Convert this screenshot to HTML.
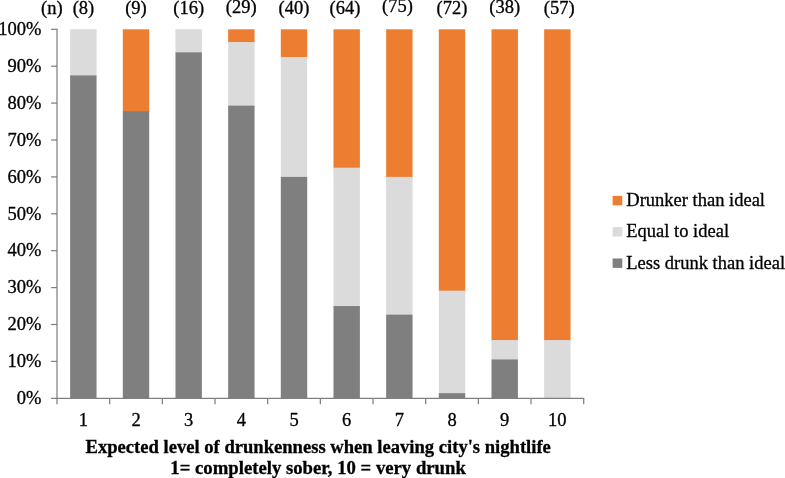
<!DOCTYPE html>
<html><head><meta charset="utf-8"><title>Chart</title>
<style>
html,body{margin:0;padding:0;background:#fff;}
body{width:785px;height:478px;overflow:hidden;}
svg{display:block;font-family:"Liberation Serif",serif;font-size:18.5px;fill:#000;}
text{stroke:#000;stroke-width:0.3px;paint-order:stroke fill;}
.b{font-weight:bold;}
</style></head><body>
<svg width="785" height="478" viewBox="0 0 785 478">
<rect width="785" height="478" fill="#fff"/>

<rect x="70.14" y="29.30" width="26.40" height="47.12" fill="#dbdbdb"/>
<rect x="70.14" y="75.42" width="26.40" height="322.88" fill="#7f7f7f"/>
<rect x="122.80" y="29.30" width="26.40" height="83.00" fill="#ed7d31"/>
<rect x="122.80" y="111.30" width="26.40" height="287.00" fill="#7f7f7f"/>
<rect x="175.48" y="29.30" width="26.40" height="24.06" fill="#dbdbdb"/>
<rect x="175.48" y="52.36" width="26.40" height="345.94" fill="#7f7f7f"/>
<rect x="228.15" y="29.30" width="26.40" height="13.72" fill="#ed7d31"/>
<rect x="228.15" y="42.02" width="26.40" height="64.62" fill="#dbdbdb"/>
<rect x="228.15" y="105.64" width="26.40" height="292.66" fill="#7f7f7f"/>
<rect x="280.81" y="29.30" width="26.40" height="28.68" fill="#ed7d31"/>
<rect x="280.81" y="56.98" width="26.40" height="120.92" fill="#dbdbdb"/>
<rect x="280.81" y="176.90" width="26.40" height="221.40" fill="#7f7f7f"/>
<rect x="333.49" y="29.30" width="26.40" height="139.38" fill="#ed7d31"/>
<rect x="333.49" y="167.68" width="26.40" height="139.38" fill="#dbdbdb"/>
<rect x="333.49" y="306.05" width="26.40" height="92.25" fill="#7f7f7f"/>
<rect x="386.16" y="29.30" width="26.40" height="148.60" fill="#ed7d31"/>
<rect x="386.16" y="176.90" width="26.40" height="138.76" fill="#dbdbdb"/>
<rect x="386.16" y="314.66" width="26.40" height="83.64" fill="#7f7f7f"/>
<rect x="438.83" y="29.30" width="26.40" height="262.38" fill="#ed7d31"/>
<rect x="438.83" y="290.68" width="26.40" height="103.50" fill="#dbdbdb"/>
<rect x="438.83" y="393.18" width="26.40" height="5.12" fill="#7f7f7f"/>
<rect x="491.50" y="29.30" width="26.40" height="311.74" fill="#ed7d31"/>
<rect x="491.50" y="340.04" width="26.40" height="20.42" fill="#dbdbdb"/>
<rect x="491.50" y="359.46" width="26.40" height="38.84" fill="#7f7f7f"/>
<rect x="544.16" y="29.30" width="26.40" height="311.74" fill="#ed7d31"/>
<rect x="544.16" y="340.04" width="26.40" height="58.26" fill="#dbdbdb"/>
<g stroke="#808080" stroke-width="1.25" fill="none">
<line x1="57.00" y1="28.80" x2="57.00" y2="404.20"/>
<line x1="51.10" y1="398.30" x2="584.20" y2="398.30"/>
<line x1="51.10" y1="29.30" x2="57.00" y2="29.30"/>
<line x1="51.10" y1="66.20" x2="57.00" y2="66.20"/>
<line x1="51.10" y1="103.10" x2="57.00" y2="103.10"/>
<line x1="51.10" y1="140.00" x2="57.00" y2="140.00"/>
<line x1="51.10" y1="176.90" x2="57.00" y2="176.90"/>
<line x1="51.10" y1="213.80" x2="57.00" y2="213.80"/>
<line x1="51.10" y1="250.70" x2="57.00" y2="250.70"/>
<line x1="51.10" y1="287.60" x2="57.00" y2="287.60"/>
<line x1="51.10" y1="324.50" x2="57.00" y2="324.50"/>
<line x1="51.10" y1="361.40" x2="57.00" y2="361.40"/>
<line x1="109.67" y1="398.30" x2="109.67" y2="404.20"/>
<line x1="162.34" y1="398.30" x2="162.34" y2="404.20"/>
<line x1="215.01" y1="398.30" x2="215.01" y2="404.20"/>
<line x1="267.68" y1="398.30" x2="267.68" y2="404.20"/>
<line x1="320.35" y1="398.30" x2="320.35" y2="404.20"/>
<line x1="373.02" y1="398.30" x2="373.02" y2="404.20"/>
<line x1="425.69" y1="398.30" x2="425.69" y2="404.20"/>
<line x1="478.36" y1="398.30" x2="478.36" y2="404.20"/>
<line x1="531.03" y1="398.30" x2="531.03" y2="404.20"/>
<line x1="583.70" y1="398.30" x2="583.70" y2="404.20"/>
</g>
<text x="41.5" y="35.05" text-anchor="end">100%</text>
<text x="41.5" y="71.95" text-anchor="end">90%</text>
<text x="41.5" y="108.85" text-anchor="end">80%</text>
<text x="41.5" y="145.75" text-anchor="end">70%</text>
<text x="41.5" y="182.65" text-anchor="end">60%</text>
<text x="41.5" y="219.55" text-anchor="end">50%</text>
<text x="41.5" y="256.45" text-anchor="end">40%</text>
<text x="41.5" y="293.35" text-anchor="end">30%</text>
<text x="41.5" y="330.25" text-anchor="end">20%</text>
<text x="41.5" y="367.15" text-anchor="end">10%</text>
<text x="41.5" y="404.05" text-anchor="end">0%</text>
<text x="83.34" y="425.6" text-anchor="middle">1</text>
<text x="136.00" y="425.6" text-anchor="middle">2</text>
<text x="188.68" y="425.6" text-anchor="middle">3</text>
<text x="241.34" y="425.6" text-anchor="middle">4</text>
<text x="294.01" y="425.6" text-anchor="middle">5</text>
<text x="346.69" y="425.6" text-anchor="middle">6</text>
<text x="399.36" y="425.6" text-anchor="middle">7</text>
<text x="452.03" y="425.6" text-anchor="middle">8</text>
<text x="504.69" y="425.6" text-anchor="middle">9</text>
<text x="557.37" y="425.6" text-anchor="middle">10</text>
<text x="51.9" y="13.8" text-anchor="middle">(n)</text>
<text x="83.50" y="13.6" text-anchor="middle">(8)</text>
<text x="135.95" y="13.7" text-anchor="middle">(9)</text>
<text x="188.70" y="14.3" text-anchor="middle">(16)</text>
<text x="241.25" y="13.1" text-anchor="middle">(29)</text>
<text x="293.90" y="13.9" text-anchor="middle">(40)</text>
<text x="344.90" y="13.5" text-anchor="middle">(64)</text>
<text x="397.40" y="12.3" text-anchor="middle">(75)</text>
<text x="452.00" y="14.2" text-anchor="middle">(72)</text>
<text x="504.70" y="13.0" text-anchor="middle">(38)</text>
<text x="559.20" y="13.7" text-anchor="middle">(57)</text>
<text class="b" x="318.2" y="452.6" font-size="18.6" text-anchor="middle">Expected level of drunkenness when leaving city's nightlife</text>
<text class="b" x="318.1" y="473.6" font-size="18.72" text-anchor="middle">1= completely sober, 10 = very drunk</text>
<rect x="612.6" y="195.9" width="9.7" height="9.4" fill="#ed7d31"/>
<text x="626.3" y="205.9">Drunker than ideal</text>
<rect x="612.6" y="227.1" width="9.7" height="9.4" fill="#dbdbdb"/>
<text x="626.3" y="237.1">Equal to ideal</text>
<rect x="612.6" y="258.5" width="9.7" height="9.4" fill="#7f7f7f"/>
<text x="626.3" y="268.5">Less drunk than ideal</text>
</svg></body></html>
